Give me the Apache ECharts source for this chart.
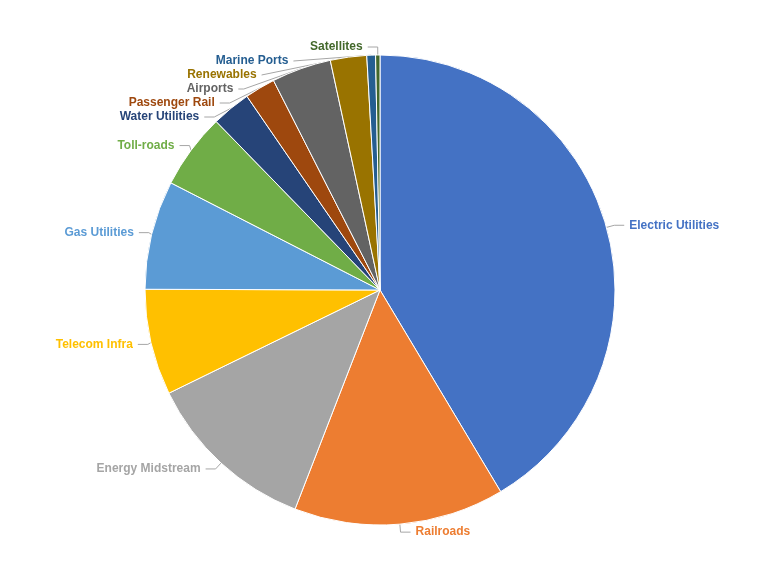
<!DOCTYPE html>
<html lang="en" style="height: 100%">
<head>
  <meta charset="utf-8">
</head>
<body style="height: 100%; margin: 0; background: #fff">
  <div id="container" style="width: 765px; height: 578px"></div>
  <script type="text/javascript" src="https://fastly.jsdelivr.net/npm/echarts@6/dist/echarts.min.js"></script>
  <script type="text/javascript">
    var sectors = ['Electric Utilities', 'Railroads', 'Energy Midstream', 'Telecom Infra', 'Gas Utilities',
      'Toll-roads', 'Water Utilities', 'Passenger Rail', 'Airports', 'Renewables', 'Marine Ports', 'Satellites'];
    var shares = [41.5, 14.5, 11.9, 7.3, 7.5, 5.2, 2.7, 2.1, 4.1, 2.5, 0.6, 0.3];
    var colors = ['#4472C4', '#ED7D31', '#A5A5A5', '#FFC000', '#5B9BD5', '#70AD47',
      '#264478', '#9E480E', '#636363', '#997300', '#255E91', '#43682B'];

    var myChart = echarts.init(document.getElementById('container'), null, { renderer: 'canvas' });

    var option = {
      animation: false,
      series: [{
        type: 'pie',
        center: [380, 290],
        radius: 235,
        startAngle: 90,
        clockwise: true,
        data: sectors.map(function (name, i) {
          return {
            name: name,
            value: shares[i],
            itemStyle: { color: colors[i] },
            label: { color: colors[i] }
          };
        }),
        itemStyle: { borderColor: '#fff', borderWidth: 1 },
        label: {
          show: true,
          formatter: '{b}',
          fontFamily: 'Liberation Sans',
          fontSize: 12,
          fontWeight: 'bold'
        },
        labelLine: {
          show: true,
          length: 8,
          length2: 10,
          lineStyle: { color: '#a6a6a6', width: 1 }
        }
      }]
    };

    myChart.setOption(option);
  </script>
</body>
</html>
